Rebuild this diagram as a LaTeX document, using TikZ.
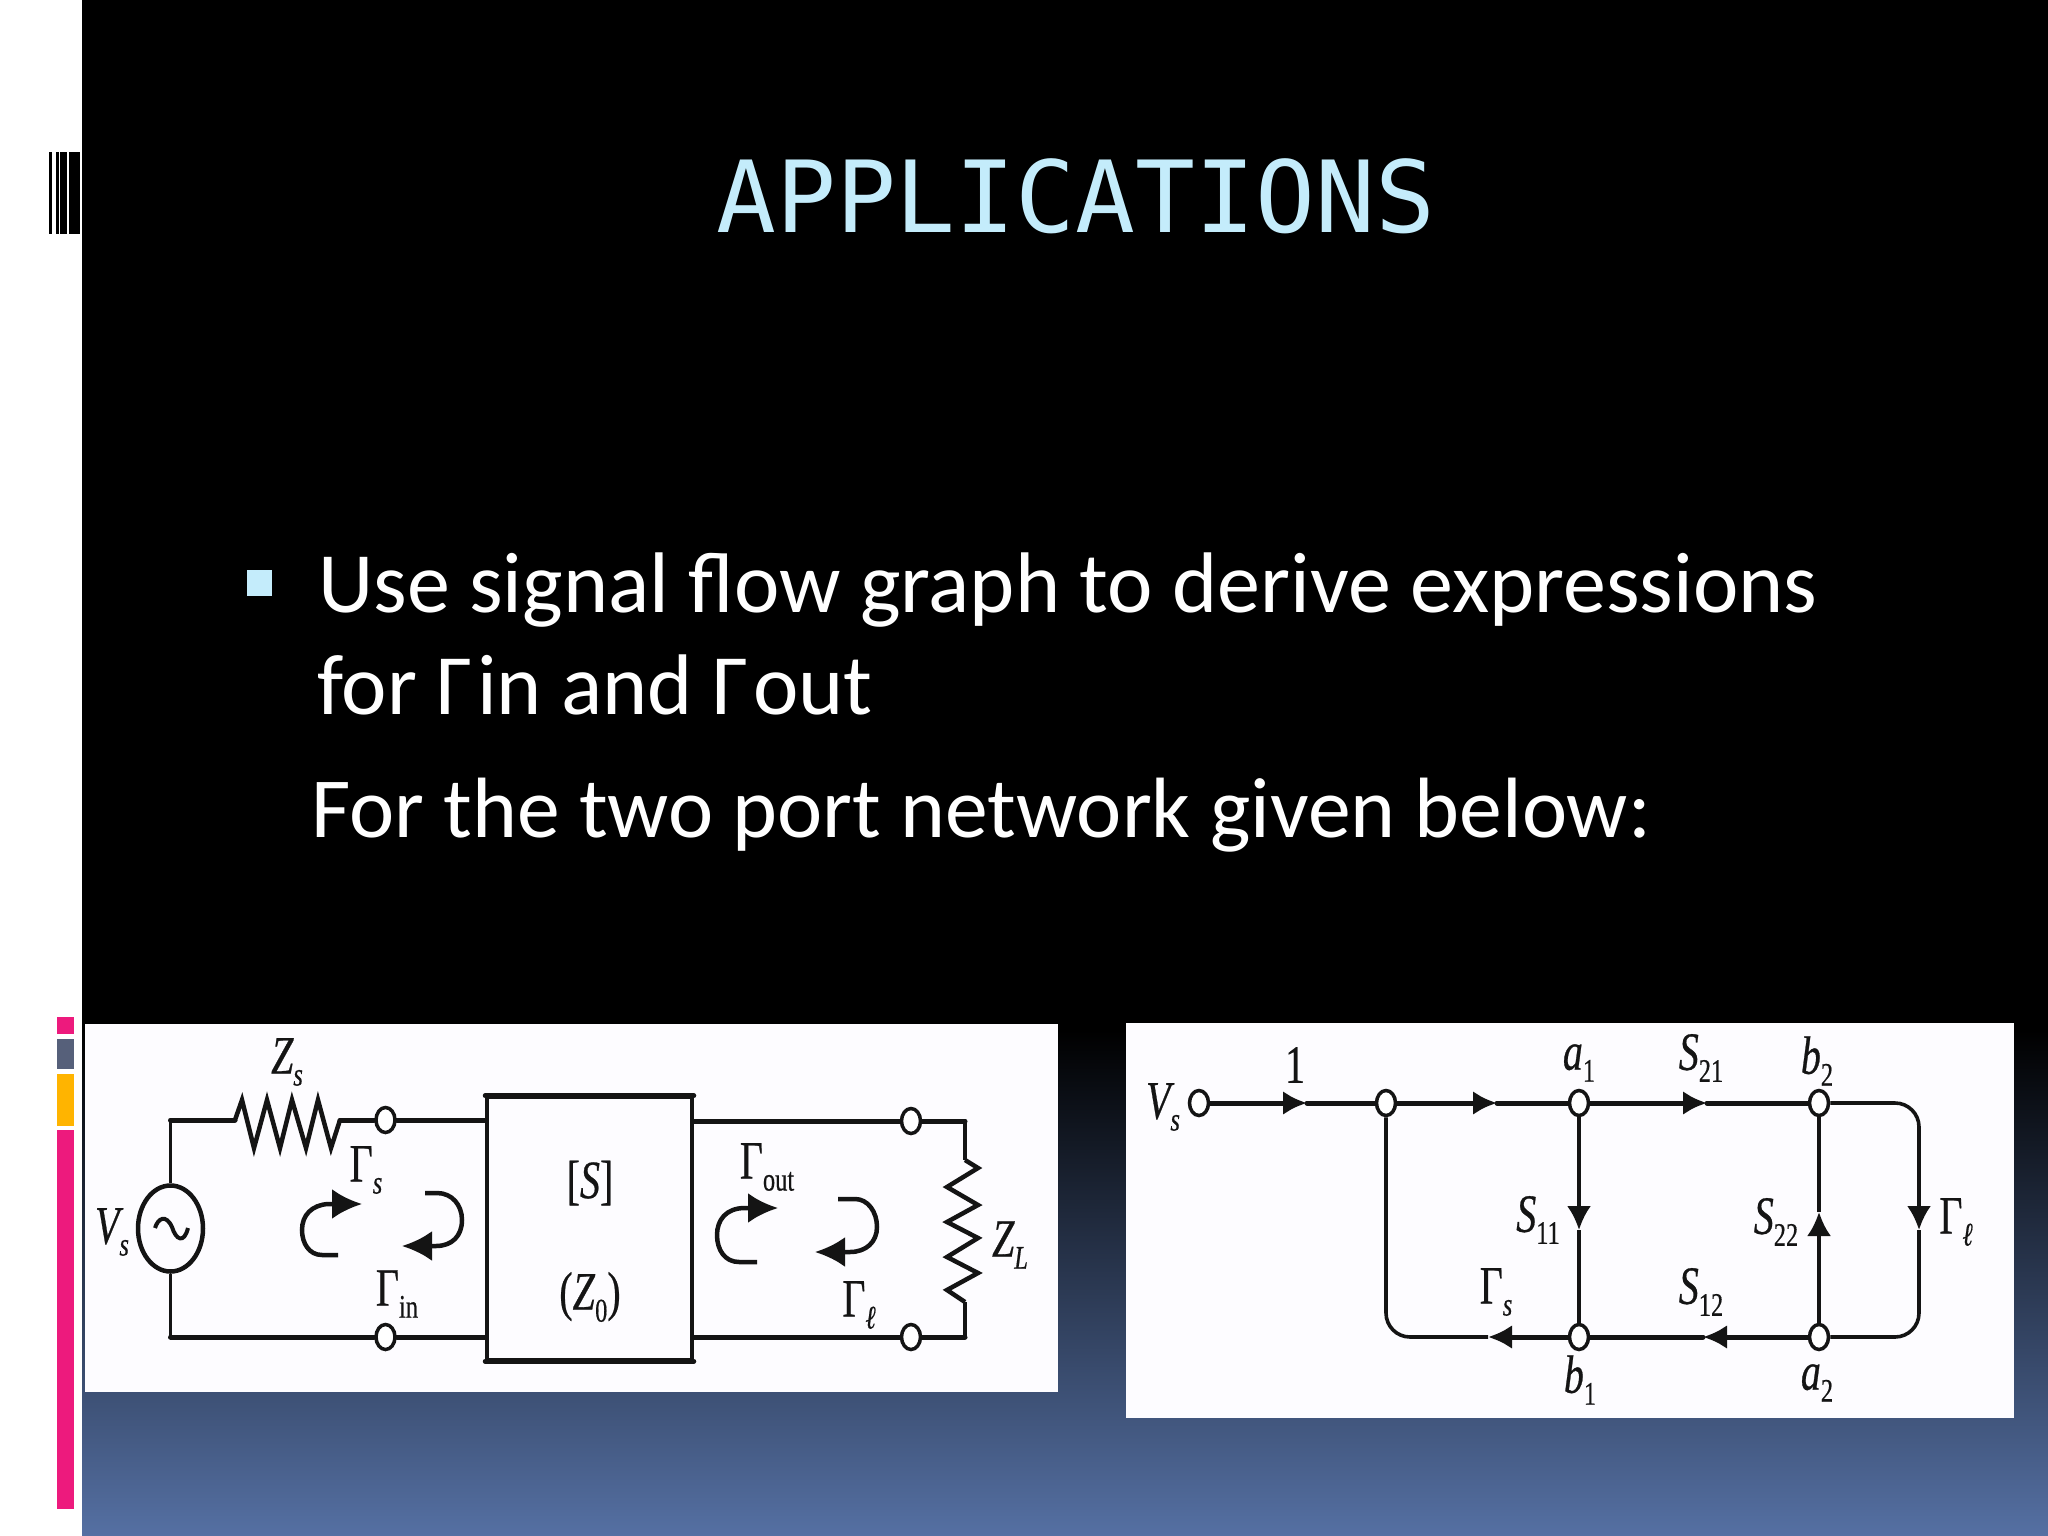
\documentclass[tikz,border=0pt]{standalone}
\usepackage{fontspec}
\usepackage{graphicx}
\setmainfont{Carlito}
\newfontfamily\titlefont{DejaVu Sans Mono}
\newfontfamily\labfont[FakeBold=0.6]{Liberation Serif}
\usetikzlibrary{arrows.meta,calc,shapes.geometric}
\definecolor{slideblue}{HTML}{5570A3}
\definecolor{ice}{HTML}{C4ECFB}
\definecolor{pinkbar}{HTML}{ED1A7D}
\definecolor{greybar}{HTML}{56607A}
\definecolor{amberbar}{HTML}{FFB400}
\definecolor{paper}{HTML}{FDFCFF}
\definecolor{ink}{HTML}{141414}
\newcommand\lbl[1]{\scalebox{.74}[1]{\labfont\fontsize{54}{54}\selectfont #1}}
\newcommand\sbs[1]{\raisebox{-12pt}{\fontsize{33}{33}\selectfont #1}}
\tikzset{
  x=1pt,y=-1pt,
  thick wire/.style={draw=ink,line width=5pt,line cap=round},
  thin wire/.style={draw=ink,line width=3.6pt},
  port/.style={ellipse,draw=ink,fill=white,line width=3.5pt,minimum width=19pt,minimum height=25pt,inner sep=0pt},
  lab/.style={inner sep=0pt,text=ink},
  tip/.style={-{Latex[length=24pt,width=24pt]}},
  looparrow/.style={draw=ink,line width=4.5pt,-{Latex[length=30pt,width=30pt]}},
  bodytext/.style={inner sep=0pt,anchor=base west,text=white,font=\fontsize{86}{86}\selectfont},
}
\begin{document}
\begin{tikzpicture}
\useasboundingbox (0,0) rectangle (2048,1536);
% slide
\fill[white] (0,0) rectangle (82,1536);
\fill[black] (82,0) rectangle (2048,1030);
\shade[top color=black,bottom color=slideblue,shading angle=0] (82,1030) rectangle (2048,1536);
% barcode
\fill[black] (49,152) rectangle (52,234);
\fill[black] (56,152) rectangle (59,234);
\fill[black] (60,152) rectangle (67,234);
\fill[black] (69,152) rectangle (80,234);
% side bars
\fill[pinkbar] (57,1017) rectangle (74,1034);
\fill[greybar] (57,1039) rectangle (74,1069);
\fill[amberbar] (57,1074) rectangle (74,1126);
\fill[pinkbar] (57,1130) rectangle (74,1509);
% title and text
\node[inner sep=0pt,anchor=base west,text=ice,font=\titlefont\fontsize{99.5}{99.5}\selectfont] (title) at (716,232) {APPLICATIONS};
\fill[ice] (247,570) rectangle (272,596);
\node[bodytext] (l1) at (318,612) {Use signal flow graph to derive expressions};
\node[bodytext] (l2) at (317,714) {for Γ\kern5pt in and Γ\kern5pt out};
\node[bodytext,font=\fontsize{85.6}{86}\selectfont] (l3) at (311,837) {For the two port network given below:};
% ---------- left picture
\fill[paper] (85,1024) rectangle (1058,1392);
\node[port] (p1) at (385.5,1120) {};
\node[port] (p2) at (385.5,1337) {};
\node[port] (p3) at (911,1121) {};
\node[port] (p4) at (911,1337) {};
\node[draw=ink,line width=3.5pt,minimum width=205pt,minimum height=262pt,inner sep=0pt] (sbox) at (589.5,1228.5) {};
\draw[thick wire] (sbox.north west) -- (sbox.north east);
\draw[thick wire] (sbox.south west) -- (sbox.south east);
\node[ellipse,draw=ink,line width=4.5pt,minimum width=65pt,minimum height=86pt,inner sep=0pt,fill=paper] (src) at (170.5,1228.5) {};
\coordinate (tl) at (170.5,1120);
\coordinate (bl) at (170.5,1337);
\coordinate (tr) at (965,1121);
\coordinate (br) at (965,1337);
\coordinate (ra) at (235,1120);
\coordinate (rb) at (340,1120);
\coordinate (la) at (965,1160);
\coordinate (lb) at (965,1302);
\draw[thin wire] (src) -- (tl);
\draw[thin wire] (src) -- (bl);
\draw[thick wire] (tl) -- (ra);
\draw[draw=ink,line width=4.5pt] (ra) -- (242,1100) -- (254,1148) -- (267,1100) -- (280,1148) -- (292,1100) -- (306,1148) -- (318,1100) -- (331,1148) -- (rb);
\draw[thick wire] (rb) -- (p1);
\draw[thick wire] (p1) -- (p1-|sbox.west);
\draw[thick wire] (bl) -- (p2);
\draw[thick wire] (p2) -- (p2-|sbox.west);
\draw[thick wire] (p3-|sbox.east) -- (p3);
\draw[thick wire] (p4-|sbox.east) -- (p4);
\draw[thick wire] (p3) -- (tr);
\draw[thick wire] (p4) -- (br);
\draw[thin wire,line width=4.5pt] (tr) -- (la);
\draw[thin wire,line width=4.5pt] (lb) -- (br);
\draw[draw=ink,line width=4.5pt] (la) -- (978,1168) -- (947,1187) -- (978,1205) -- (947,1222) -- (978,1238) -- (947,1257) -- (978,1273) -- (947,1290) -- (lb);
% loop arrows
\coordinate (g1s) at (338,1255); \coordinate (g1e) at (362,1204);
\coordinate (g2s) at (425,1193); \coordinate (g2e) at (402,1246);
\coordinate (g3s) at (757,1262); \coordinate (g3e) at (778,1208);
\coordinate (g4s) at (838,1199); \coordinate (g4e) at (815,1252);
\draw[looparrow] (g1s) -- (322,1255) .. controls (309,1255) and (302,1243) .. (302,1230) .. controls (302,1215) and (312,1205) .. (328,1204) -- (g1e);
\draw[looparrow] (g2s) -- (437,1193) .. controls (452,1193) and (462,1205) .. (462,1220) .. controls (462,1236) and (452,1246) .. (436,1246) -- (g2e);
\draw[looparrow] (g3s) -- (739,1262) .. controls (725,1262) and (717,1250) .. (717,1235) .. controls (717,1220) and (726,1208) .. (745,1208) -- (g3e);
\draw[looparrow] (g4s) -- (855,1199) .. controls (868,1199) and (877,1212) .. (877,1227) .. controls (877,1242) and (866,1252) .. (850,1252) -- (g4e);
% sine in the source
\draw[ink,line width=4pt] (155,1228) .. controls (158,1218) and (166,1214) .. (172,1227) .. controls (176,1240) and (184,1244) .. (188,1228);
% labels
\node[lab] (zs) at (287,1062) {\lbl{\itshape Z\sbs{s}}};
\node[lab] (vs) at (112,1232) {\lbl{\itshape V\sbs{s}}};
\node[lab] (gs) at (366,1170) {\lbl{Γ\sbs{\itshape s}}};
\node[lab] (gi) at (397,1294) {\lbl{Γ\sbs{in}}};
\node[lab] (smat) at (590,1183) {\lbl{[\textit{S}]}};
\node[lab] (z0) at (590,1297) {\lbl{(\textit{Z}\sbs{0})}};
\node[lab] (go) at (767,1167) {\lbl{Γ\sbs{out}}};
\node[lab] (gl) at (859,1305) {\lbl{Γ\sbs{\itshape ℓ}}};
\node[lab] (zl) at (1010,1245) {\lbl{\itshape Z\sbs{L}}};
% ---------- right picture
\fill[paper] (1126,1023) rectangle (2014,1418);
\node[port] (nv) at (1199,1103) {};
\node[port] (n1) at (1386,1103) {};
\node[port] (a1) at (1579,1103) {};
\node[port] (b2) at (1819,1103) {};
\node[port] (b1) at (1579,1337) {};
\node[port] (a2) at (1819,1337) {};
\coordinate (t1) at (1307,1103);
\coordinate (t2) at (1497,1103);
\coordinate (t3) at (1707,1103);
\coordinate (t4) at (1919,1230);
\coordinate (t5) at (1703,1337);
\coordinate (t6) at (1488,1337);
\coordinate (t7) at (1579,1230);
\coordinate (t8) at (1819,1212);
\coordinate (cr1) at (1919,1103);
\coordinate (cr2) at (1919,1337);
\coordinate (cl) at (1386,1337);
\draw[thick wire,tip] (nv) -- (t1);
\draw[thick wire] (t1) -- (n1);
\draw[thick wire,tip] (n1) -- (t2);
\draw[thick wire] (t2) -- (a1);
\draw[thick wire,tip] (a1) -- (t3);
\draw[thick wire] (t3) -- (b2);
\draw[thin wire,rounded corners=24pt,tip] (b2) -- (cr1) -- (t4);
\draw[thin wire,rounded corners=24pt] (t4) -- (cr2) -- (a2);
\draw[thick wire,tip] (a2) -- (t5);
\draw[thick wire] (t5) -- (b1);
\draw[thick wire,tip] (b1) -- (t6);
\draw[thin wire,rounded corners=24pt] (t6) -- (cl) -- (n1);
\draw[thin wire,tip] (a1) -- (t7);
\draw[thin wire] (t7) -- (b1);
\draw[thin wire,tip] (a2) -- (t8);
\draw[thin wire] (t8) -- (b2);
\node[lab] (lvs) at (1163,1107) {\lbl{\itshape V\sbs{s}}};
\node[lab] (lone) at (1295,1065) {\lbl{1}};
\node[lab] (la1) at (1579,1063) {\lbl{\itshape a\sbs{\upshape 1}}};
\node[lab] (ls21) at (1701,1058) {\lbl{\itshape S\sbs{\upshape 21}}};
\node[lab] (lb2) at (1817,1061) {\lbl{\itshape b\sbs{\upshape 2}}};
\node[lab] (ls11) at (1538,1220) {\lbl{\itshape S\sbs{\upshape 11}}};
\node[lab] (ls22) at (1776,1222) {\lbl{\itshape S\sbs{\upshape 22}}};
\node[lab] (lgl) at (1956,1222) {\lbl{Γ\sbs{\itshape ℓ}}};
\node[lab] (lgs) at (1496,1292) {\lbl{Γ\sbs{\itshape s}}};
\node[lab] (ls12) at (1701,1292) {\lbl{\itshape S\sbs{\upshape 12}}};
\node[lab] (lb1) at (1580,1380) {\lbl{\itshape b\sbs{\upshape 1}}};
\node[lab] (la2) at (1817,1383) {\lbl{\itshape a\sbs{\upshape 2}}};
\end{tikzpicture}
\end{document}
